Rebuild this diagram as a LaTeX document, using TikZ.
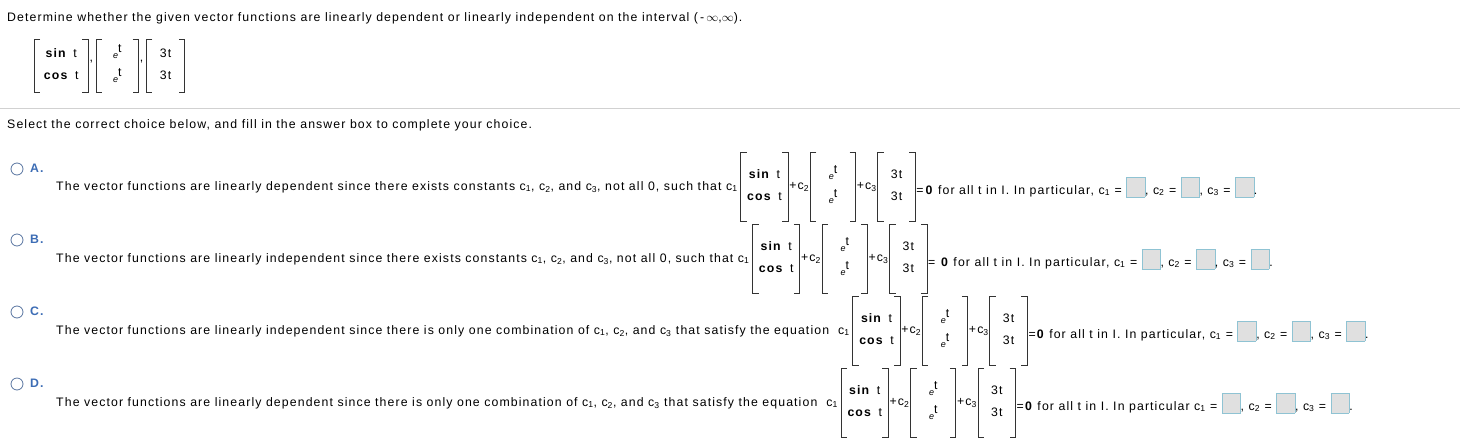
\documentclass[tikz,border=0pt]{standalone}
\usepackage{fontspec}
\setmainfont{Liberation Sans}[LetterSpace=9]
\usetikzlibrary{positioning}
\definecolor{boxc}{HTML}{8FC3D3}
\definecolor{boxg}{HTML}{E0E0E0}
\definecolor{optblue}{HTML}{3D6DB5}
\newcommand\ans{\fcolorbox{boxc}{boxg}{\rule{0pt}{14pt}\hspace{12pt}}}
\newcommand\ee{{\itshape\fontsize{9}{9}\selectfont e}\raisebox{6pt}{t}}
\newcommand\vsin{\begin{tabular}{@{}c@{}}\textbf{sin}\, t\\[8pt]\textbf{cos}\, t\end{tabular}}
\newcommand\vexp{\begin{tabular}{@{}c@{}}\ee\\[6pt]\ee\end{tabular}}
\newcommand\vthr{\begin{tabular}{@{}c@{}}3t\\[8pt]3t\end{tabular}}
\newcommand\brk[1]{\draw[brk] ([xshift=6pt]#1.north west) -| (#1.south west) -- ++(6pt,0);
  \draw[brk] ([xshift=-6pt]#1.north east) -| (#1.south east) -- ++(-6pt,0);}
\newcommand\vexpr[3]{%
  \node[vb,anchor=west] (#1v1) at ([xshift=2pt]#1c.east) {\vsin}; \brk{#1v1}
  \node[tx,anchor=west] (#1p2) at (#1v1.east) {+c\textsubscript{2}};
  \node[vb,anchor=west,minimum width=#2] (#1v2) at (#1p2.east) {\vexp}; \brk{#1v2}
  \node[tx,anchor=west] (#1p3) at (#1v2.east) {+c\textsubscript{3}};
  \node[vb,anchor=west,minimum width=#3] (#1v3) at (#1p3.east) {\vthr}; \brk{#1v3}
}
\tikzset{
  tx/.style={inner sep=1pt,font=\fontsize{12.3}{14}\selectfont},
  vb/.style={inner xsep=4pt,inner ysep=0pt,minimum height=68pt,minimum width=47pt,font=\fontsize{12.3}{14}\selectfont},
  brk/.style={line width=1pt,black!80},
  opt/.style={circle,draw=optblue!60!gray,line width=0.8pt,minimum size=12pt,inner sep=0pt},
  olab/.style={font=\fontsize{12.3}{14}\selectfont\bfseries,text=optblue,inner sep=0pt}
}
\begin{document}
\begin{tikzpicture}[x=1pt,y=-1pt]
\useasboundingbox (0,0) rectangle (1460,437);
\node[tx,anchor=base west] (q) at (6,21) {Determine whether the given vector functions are linearly dependent or linearly independent on the interval (\,-\,$\infty$,$\infty$).};
\node[vb,minimum width=54pt,minimum height=52pt,anchor=west] (a1) at (34,66) {\vsin}; \brk{a1}
\node[tx,anchor=west,inner sep=1pt] (k1) at ([yshift=4pt]a1.east) {,};
\node[vb,minimum width=42pt,minimum height=52pt,anchor=west] (a2) at ([xshift=2pt]k1.east |- a1.east) {\vexp}; \brk{a2}
\node[tx,anchor=west,inner sep=1pt] (k2) at ([yshift=4pt]a2.east) {,};
\node[vb,minimum width=38pt,minimum height=52pt,anchor=west] (a3) at ([xshift=2pt]k2.east |- a2.east) {\vthr}; \brk{a3}
\draw[black!18,line width=1pt] (0,108) -- (1460,108);
\node[tx,anchor=base west] (sel) at (6,128) {Select the correct choice below, and fill in the answer box to complete your choice.};
% A
\node[opt] (oA) at (17,169) {}; \node[olab,anchor=west] (lA) at (30,168) {A.};
\node[tx,anchor=west] (Ac) at (55,187) {The vector functions are linearly dependent since there exists constants c\textsubscript{1}, c\textsubscript{2}, and c\textsubscript{3}, not all 0, such that c\textsubscript{1}};
\vexpr{A}{45pt}{37pt}
\node[tx,anchor=west] (At) at (Av3.east) {=\,\textbf{0} for all t in I. In particular, c\textsubscript{1} = \ans, c\textsubscript{2} = \ans, c\textsubscript{3} = \ans.};
% B
\node[opt] (oB) at (17,240) {}; \node[olab,anchor=west] (lB) at (30,239) {B.};
\node[tx,anchor=west] (Bc) at (55,259) {The vector functions are linearly independent since there exists constants c\textsubscript{1}, c\textsubscript{2}, and c\textsubscript{3}, not all 0, such that c\textsubscript{1}};
\vexpr{B}{45pt}{37pt}
\node[tx,anchor=west] (Bt) at (Bv3.east) {= \textbf{0} for all t in I. In particular, c\textsubscript{1} = \ans, c\textsubscript{2} = \ans, c\textsubscript{3} = \ans.};
% C
\node[opt] (oC) at (17,312) {}; \node[olab,anchor=west] (lC) at (30,311) {C.};
\node[tx,anchor=west] (Cc) at (55,331) {The vector functions are linearly independent since there is only one combination of c\textsubscript{1}, c\textsubscript{2}, and c\textsubscript{3} that satisfy the equation \ c\textsubscript{1}};
\vexpr{C}{45pt}{37pt}
\node[tx,anchor=west] (Ct) at (Cv3.east) {=\textbf{0} for all t in I. In particular, c\textsubscript{1} = \ans, c\textsubscript{2} = \ans, c\textsubscript{3} = \ans.};
% D
\node[opt] (oD) at (17,384) {}; \node[olab,anchor=west] (lD) at (30,383) {D.};
\node[tx,anchor=west] (Dc) at (55,403) {The vector functions are linearly dependent since there is only one combination of c\textsubscript{1}, c\textsubscript{2}, and c\textsubscript{3} that satisfy the equation \ c\textsubscript{1}};
\vexpr{D}{45pt}{37pt}
\node[tx,anchor=west] (Dt) at (Dv3.east) {=\textbf{0} for all t in I. In particular c\textsubscript{1} = \ans, c\textsubscript{2} = \ans, c\textsubscript{3} = \ans.};
\end{tikzpicture}
\end{document}
